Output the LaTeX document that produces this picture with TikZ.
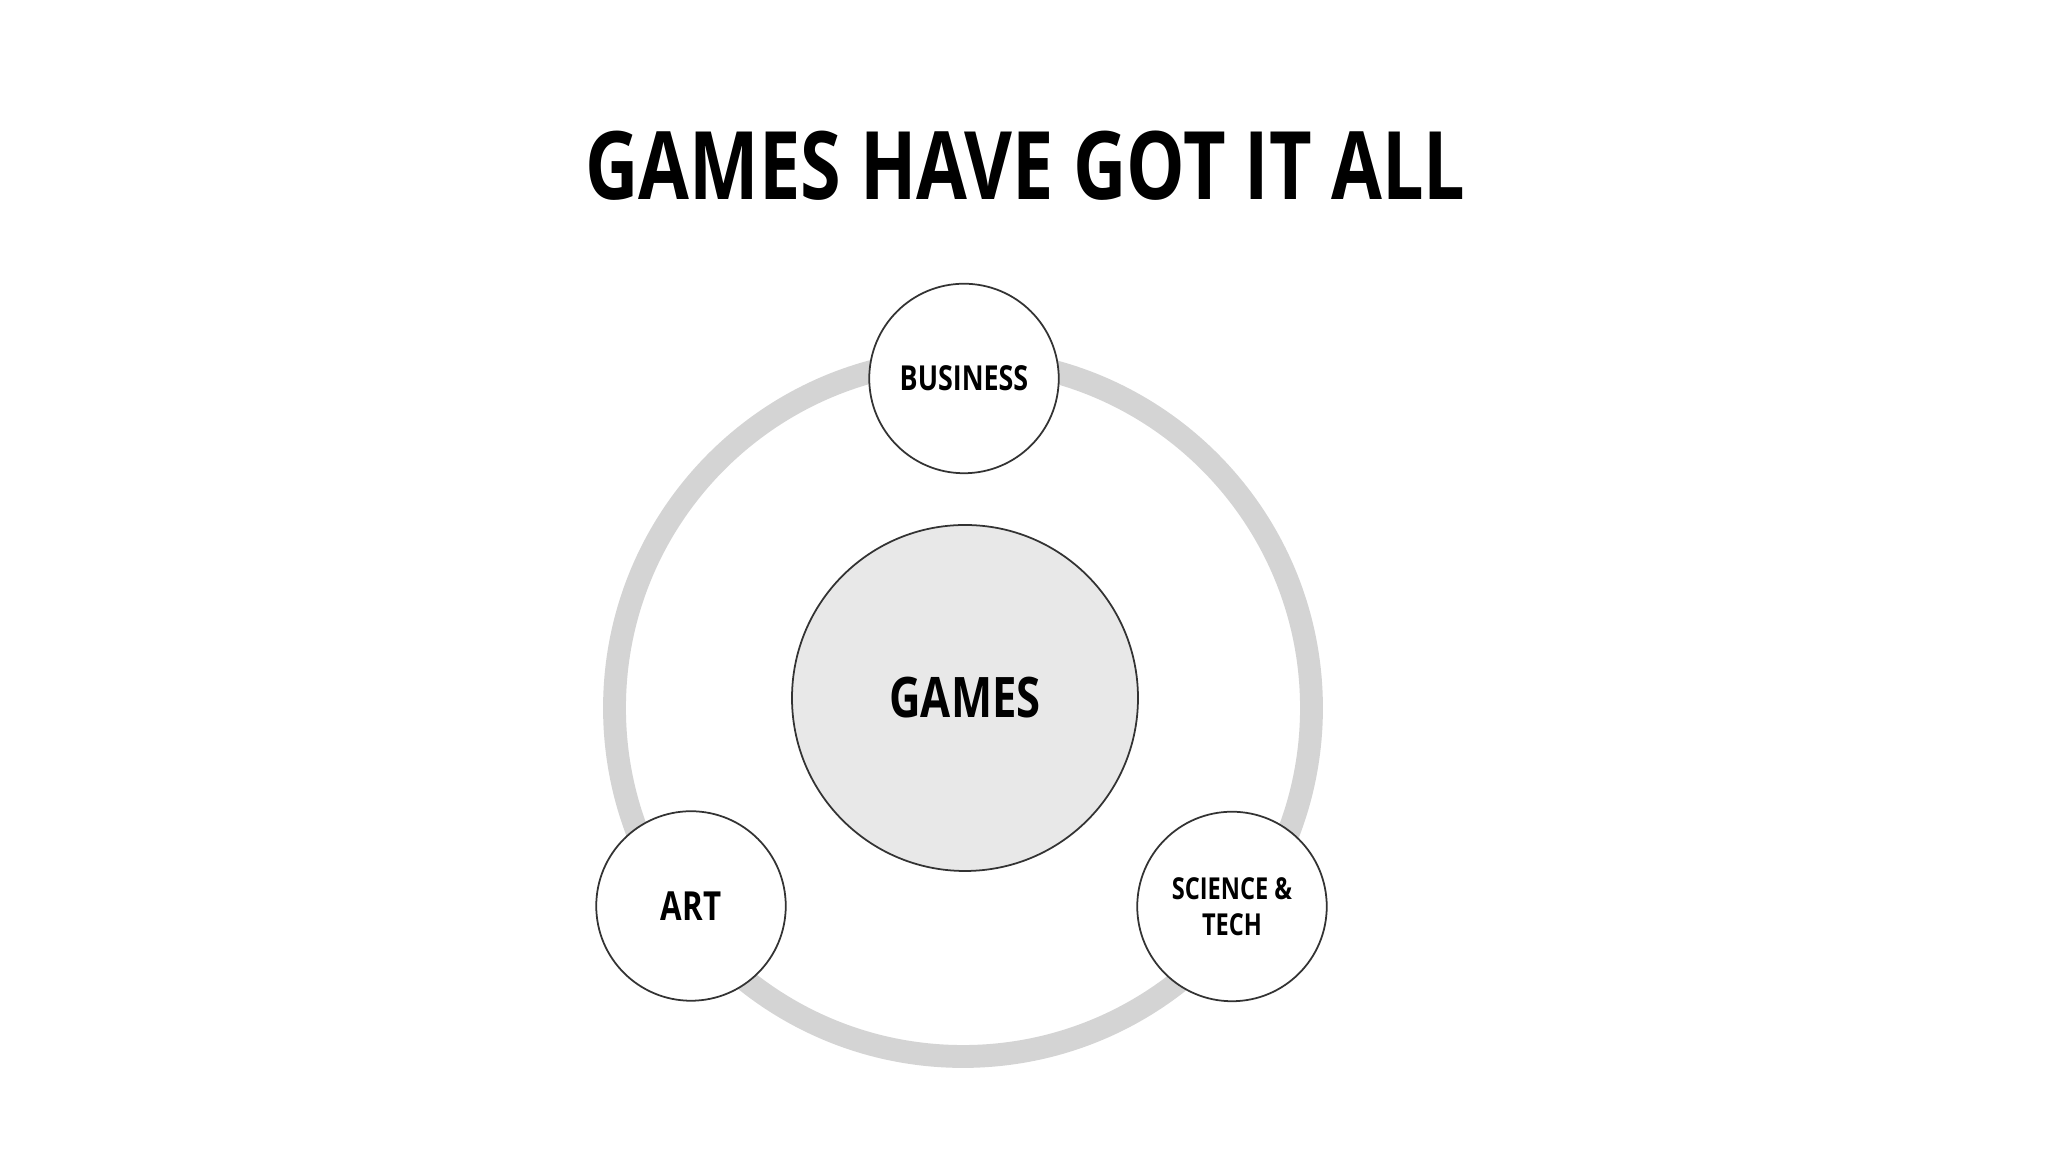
\documentclass[tikz,border=0pt]{standalone}
\usepackage{fontspec}
\newfontfamily\condfont{Open Sans}[FakeStretch=0.78]
\usetikzlibrary{calc}
\definecolor{ringgray}{RGB}{212,212,212}
\definecolor{hubgray}{RGB}{232,232,232}

\begin{document}
\begin{tikzpicture}[
  sidecirc/.style={circle,draw=black!80,line width=0.5pt,fill=white,minimum size=1.895cm,inner sep=0pt,align=center},
  hubcirc/.style={circle,draw=black!80,line width=0.5pt,fill=hubgray,minimum size=3.46cm,inner sep=0pt}]
\fill[white] (0,0) rectangle (20.48,11.52);
\useasboundingbox (0,0) rectangle (20.48,11.52);
% title
\node[anchor=base,font=\condfont\bfseries\fontsize{26.9}{30}\selectfont] (title) at (10.255,9.527) {GAMES HAVE GOT IT ALL};
% ring
\draw[ringgray,line width=6.5pt] (9.63,4.44) circle (3.485);
% centre and satellites
\node[hubcirc,font=\condfont\bfseries\fontsize{15.9}{18}\selectfont] (games) at (9.65,4.54) {GAMES};
\node[sidecirc,font=\condfont\bfseries\fontsize{9.8}{11}\selectfont] (business) at (9.64,7.735) {BUSINESS};
\node[sidecirc,font=\condfont\bfseries\fontsize{11.4}{13}\selectfont] (art) at (6.91,2.46) {ART};
\node[sidecirc,font=\condfont\bfseries\fontsize{8.6}{10.4}\selectfont] (scitech) at (12.32,2.455) {SCIENCE \&\\TECH};
\end{tikzpicture}
\end{document}
